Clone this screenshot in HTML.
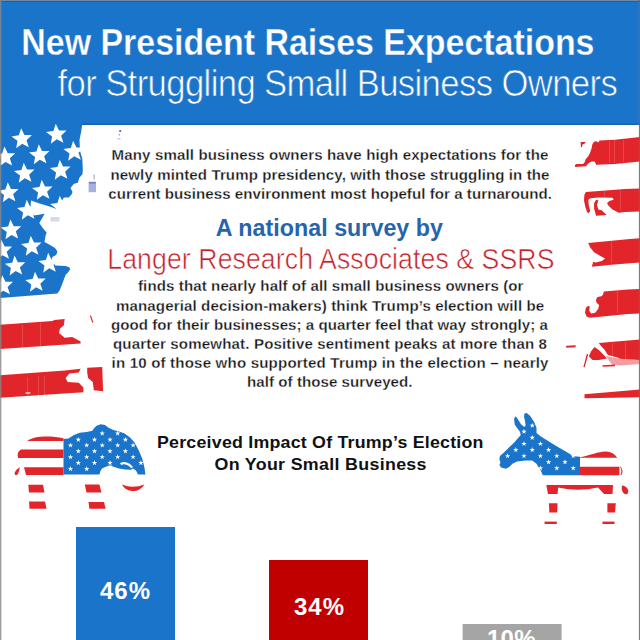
<!DOCTYPE html>
<html><head><meta charset="utf-8"><style>
html,body{margin:0;padding:0;background:#fff;width:640px;height:640px;overflow:hidden}
svg{display:block;font-family:"Liberation Sans",sans-serif}
</style></head><body>
<svg width="640" height="640" viewBox="0 0 640 640">
<rect x="0" y="0" width="640" height="125" fill="#1a74ca"/>
<polygon points="0.0,124.0 82.3,124.0 81.2,131.4 79.5,140.0 80.0,151.0 82.3,158.7 82.8,170.0 82.5,174.0 79.2,178.0 78.0,182.5 73.7,184.0 70.5,188.0 72.5,192.0 71.5,194.5 68.8,197.6 64.0,197.6 61.2,201.4 57.3,203.0 58.4,208.7 56.0,212.0 46.0,211.4 39.3,222.9 42.6,227.8 46.7,232.7 45.7,235.0 44.5,242.0 49.2,244.4 55.0,247.9 57.4,251.4 56.2,255.0 52.7,256.7 51.6,258.4 55.0,265.5 65.6,266.0 69.1,267.2 70.3,269.0 68.0,272.5 65.6,274.8 63.9,279.5 62.1,284.2 59.8,290.0 57.4,293.5 0.0,298.0" fill="#1a74ca" />
<polygon points="21.15,128.23 24.42,134.97 31.91,134.95 26.51,140.15 28.84,147.27 22.23,143.74 16.18,148.16 17.49,140.78 11.42,136.39 18.85,135.36" fill="#fff"/>
<polygon points="55.75,123.83 59.02,130.57 66.51,130.55 61.11,135.75 63.44,142.87 56.83,139.34 50.78,143.76 52.09,136.38 46.02,131.99 53.45,130.96" fill="#fff"/>
<polygon points="4.45,146.43 7.72,153.17 15.21,153.15 9.81,158.35 12.14,165.47 5.53,161.94 -0.52,166.36 0.79,158.98 -5.28,154.59 2.15,153.56" fill="#fff"/>
<polygon points="38.75,144.33 42.02,151.07 49.51,151.05 44.11,156.25 46.44,163.37 39.83,159.84 33.78,164.26 35.09,156.88 29.02,152.49 36.45,151.46" fill="#fff"/>
<polygon points="73.15,140.83 76.42,147.57 83.91,147.55 78.51,152.75 80.84,159.87 74.23,156.34 68.18,160.76 69.49,153.38 63.42,148.99 70.85,147.96" fill="#fff"/>
<polygon points="23.75,162.83 27.02,169.57 34.51,169.55 29.11,174.75 31.44,181.87 24.83,178.34 18.78,182.76 20.09,175.38 14.02,170.99 21.45,169.96" fill="#fff"/>
<polygon points="59.75,159.83 63.02,166.57 70.51,166.55 65.11,171.75 67.44,178.87 60.83,175.34 54.78,179.76 56.09,172.38 50.02,167.99 57.45,166.96" fill="#fff"/>
<polygon points="7.75,182.33 11.02,189.07 18.51,189.05 13.11,194.25 15.44,201.37 8.83,197.84 2.78,202.26 4.09,194.88 -1.98,190.49 5.45,189.46" fill="#fff"/>
<polygon points="41.75,179.83 45.02,186.57 52.51,186.55 47.11,191.75 49.44,198.87 42.83,195.34 36.78,199.76 38.09,192.38 32.02,187.99 39.45,186.96" fill="#fff"/>
<polygon points="26.75,199.83 30.02,206.57 37.51,206.55 32.11,211.75 34.44,218.87 27.83,215.34 21.78,219.76 23.09,212.38 17.02,207.99 24.45,206.96" fill="#fff"/>
<polygon points="59.75,195.83 63.02,202.57 70.51,202.55 65.11,207.75 67.44,214.87 60.83,211.34 54.78,215.76 56.09,208.38 50.02,203.99 57.45,202.96" fill="#fff"/>
<polygon points="10.45,219.43 13.72,226.17 21.21,226.15 15.81,231.35 18.14,238.47 11.53,234.94 5.48,239.36 6.79,231.98 0.72,227.59 8.15,226.56" fill="#fff"/>
<polygon points="30.75,235.83 34.02,242.57 41.51,242.55 36.11,247.75 38.44,254.87 31.83,251.34 25.78,255.76 27.09,248.38 21.02,243.99 28.45,242.96" fill="#fff"/>
<polygon points="1.35,239.83 4.62,246.57 12.11,246.55 6.71,251.75 9.04,258.87 2.43,255.34 -3.62,259.76 -2.31,252.38 -8.38,247.99 -0.95,246.96" fill="#fff"/>
<polygon points="14.55,255.53 17.82,262.27 25.31,262.25 19.91,267.45 22.24,274.57 15.63,271.04 9.58,275.46 10.89,268.08 4.82,263.69 12.25,262.66" fill="#fff"/>
<polygon points="48.15,252.83 51.42,259.57 58.91,259.55 53.51,264.75 55.84,271.87 49.23,268.34 43.18,272.76 44.49,265.38 38.42,260.99 45.85,259.96" fill="#fff"/>
<polygon points="34.95,271.83 38.22,278.57 45.71,278.55 40.31,283.75 42.64,290.87 36.03,287.34 29.98,291.76 31.29,284.38 25.22,279.99 32.65,278.96" fill="#fff"/>
<polygon points="2.25,275.13 5.52,281.87 13.01,281.85 7.61,287.05 9.94,294.17 3.33,290.64 -2.72,295.06 -1.41,287.68 -7.48,283.29 -0.05,282.26" fill="#fff"/>
<polygon points="31.0,200.5 38.8,203.2 48.0,206.0 57.5,209.3 58.4,212.2 46.0,213.5 34.0,215.4 30.0,212.0" fill="#fff" />
<polygon points="0.0,324.7 52.5,320.9 54.4,320.0 64.7,319.0 63.8,325.6 60.0,328.4 59.0,333.0 64.7,337.8 72.2,336.9 80.6,341.6 80.6,343.4 0.0,349.0" fill="#e2252a" />
<polygon points="0.0,375.3 65.0,370.6 80.6,368.8 78.8,372.5 69.4,373.4 65.6,378.0 67.5,381.9 78.8,382.8 83.4,387.5 83.4,392.2 0.0,397.8" fill="#e2252a" />
<polygon points="87.2,367.8 102.2,366.9 103.1,391.2 93.8,390.3 92.8,381.9 88.1,378.1 87.2,372.5" fill="#e2252a" />
<polygon points="640.0,137.0 615.0,139.7 599.4,140.5 598.6,142.5 596.2,141.3 593.9,141.7 592.3,144.4 591.6,148.3 590.0,153.0 588.4,156.0 585.7,159.2 584.5,162.4 583.0,164.0 576.7,164.0 575.2,164.7 574.8,167.0 586.0,166.3 588.4,163.2 591.6,161.6 594.7,161.6 596.2,164.7 615.0,164.0 640.0,161.4" fill="#e2252a" />
<polygon points="580.6,142.0 585.7,142.0 584.5,143.8 582.5,144.5 582.0,147.0 581.0,147.0" fill="#e2252a" />
<polygon points="640.0,188.5 625.0,188.9 585.9,192.0 584.4,194.7 584.0,200.2 585.2,206.4 587.1,211.9 588.3,213.5 590.2,211.1 588.7,204.9 588.3,199.8 590.6,198.2 598.4,197.5 612.5,197.8 613.7,199.8 609.4,201.0 607.0,203.3 608.6,205.7 612.5,209.6 618.8,212.7 625.0,211.9 640.0,211.5" fill="#e2252a" />
<polygon points="596.1,199.8 598.4,200.6 596.9,204.9 598.4,209.6 601.6,210.3 606.6,215.0 596.1,215.8 594.1,208.8 594.1,203.3" fill="#e2252a" />
<polygon points="640.0,238.3 630.0,239.0 588.2,242.9 590.2,247.6 594.1,252.3 599.5,255.4 605.0,258.6 601.9,260.9 595.6,262.5 593.3,261.7 592.1,265.6 592.1,266.8 611.2,264.8 630.0,263.2 640.0,262.5" fill="#e2252a" />
<polygon points="640.0,289.0 628.0,289.6 603.8,291.6 603.0,294.7 601.4,296.3 597.5,297.1 596.0,299.4 596.4,302.5 599.1,304.9 598.3,308.8 595.2,312.7 591.3,313.5 589.3,311.1 589.7,306.4 588.2,305.7 585.8,308.0 585.0,312.7 586.6,316.6 589.7,317.8 628.0,313.9 640.0,313.4" fill="#e2252a" />
<polygon points="640.0,339.4 598.8,343.1 601.0,346.0 604.4,349.4 606.2,352.5 608.0,355.0 612.5,356.2 617.5,357.5 620.0,358.8 640.0,360.0" fill="#e2252a" />
<polygon points="594.4,346.9 598.8,350.0 603.8,355.0 607.0,358.5 598.8,360.0 592.5,360.0 588.8,356.2 591.2,351.2" fill="#e2252a" />
<polygon points="566.2,345.8 575.6,345.2 575.6,347.2 566.2,347.8" fill="#e2252a" />
<polygon points="602.5,365.2 615.0,364.6 615.0,366.2 602.5,366.8" fill="#e2252a" />
<polygon points="586.9,353.8 588.2,354.5 584.6,367.5 583.4,367.0" fill="#e2252a" />
<polygon points="584.5,394.3 640.0,389.6 640.0,397.3 584.5,398.3" fill="#e2252a" />
<polygon points="606.0,356.0 620.0,358.8 640.0,360.0 640.0,364.0 620.0,365.5 612.0,364.5" fill="#e2252a" fill-opacity="0.45"/>
<rect x="82" y="123.6" width="558" height="1.2" fill="#175ea8"/>
<rect x="88.6" y="181.6" width="7.4" height="10.6" fill="#6a7cc4" fill-opacity="0.6"/>
<rect x="89" y="182" width="6.6" height="1.6" fill="#5a64a8" fill-opacity="0.6"/>
<rect x="93.5" y="174.5" width="1.2" height="5" fill="#6f7ab8" fill-opacity="0.6"/>
<rect x="50.5" y="217" width="9" height="4.5" fill="#8a93c8" fill-opacity="0.35"/>
<circle cx="120.2" cy="131" r="1.1" fill="#2a3470" fill-opacity="0.8"/>
<circle cx="119.2" cy="134.8" r="0.8" fill="#3a4480" fill-opacity="0.6"/>
<rect x="117.5" y="138" width="3" height="1.5" fill="#7b84b8" fill-opacity="0.4"/>
<path d="M90.4,315.5 L92.8,322.5" stroke="#e2252a" stroke-width="1.1"/>
<rect x="609" y="141" width="1" height="22" fill="#fff" fill-opacity="0.15"/>
<rect x="614" y="140" width="1" height="23" fill="#fff" fill-opacity="0.15"/>
<rect x="623" y="140" width="1" height="22" fill="#fff" fill-opacity="0.15"/>
<rect x="604" y="190" width="1" height="20" fill="#fff" fill-opacity="0.15"/>
<rect x="620" y="190" width="1" height="20" fill="#fff" fill-opacity="0.15"/>
<rect x="611" y="241" width="1" height="22" fill="#fff" fill-opacity="0.15"/>
<rect x="617" y="291" width="1" height="22" fill="#fff" fill-opacity="0.15"/>
<rect x="612" y="343" width="1" height="18" fill="#fff" fill-opacity="0.15"/>
<rect x="625" y="342" width="1" height="19" fill="#fff" fill-opacity="0.15"/>
<rect x="27" y="377" width="1" height="19" fill="#fff" fill-opacity="0.15"/>
<rect x="38" y="376" width="1" height="20" fill="#fff" fill-opacity="0.15"/>
<rect x="44" y="376" width="1" height="20" fill="#fff" fill-opacity="0.15"/>
<rect x="22" y="325" width="1" height="22" fill="#fff" fill-opacity="0.15"/>
<rect x="40" y="323" width="1" height="23" fill="#fff" fill-opacity="0.15"/>
<ellipse cx="28" cy="393" rx="2.8" ry="1" fill="#fff" fill-opacity="0.7"/>
<path d="M63.5,439.1 L68.4,438.4 L74,434.9 L79.7,432.8 L86.7,432.1 L92.3,430.7 L94.5,427.8 L96.6,425.7 L100.8,424.3 L105,425 L108.5,427.8 L113.4,430 L119,431.4 L124.7,433.5 L130.3,437.7 L134.5,442.6 L138.7,450.3 L142.3,458.8 L144.4,467.2 L145.4,474.6 L138,474.6 L136,470.5 L133,468.5 L131,469.8 L125,469.6 L119,468.4 L113.4,466.8 L110.6,465.2 L106.4,466.4 L102,468.4 L100.5,471 L99.4,474.4 L63.5,474.6 Z" fill="#1a74ca"/>
<path d="M120.6,464.2 C123,462.6 128,462.4 132.2,467.6" fill="none" stroke="#fff" stroke-width="2.2"/>
<polygon points="102.20,430.60 102.83,432.53 104.86,432.53 103.22,433.73 103.85,435.67 102.20,434.47 100.55,435.67 101.18,433.73 99.54,432.53 101.57,432.53" fill="#fff"/>
<polygon points="117.70,430.60 118.33,432.53 120.36,432.53 118.72,433.73 119.35,435.67 117.70,434.47 116.05,435.67 116.68,433.73 115.04,432.53 117.07,432.53" fill="#fff"/>
<polygon points="78.30,436.90 78.93,438.83 80.96,438.83 79.32,440.03 79.95,441.97 78.30,440.77 76.65,441.97 77.28,440.03 75.64,438.83 77.67,438.83" fill="#fff"/>
<polygon points="94.50,436.90 95.13,438.83 97.16,438.83 95.52,440.03 96.15,441.97 94.50,440.77 92.85,441.97 93.48,440.03 91.84,438.83 93.87,438.83" fill="#fff"/>
<polygon points="110.00,436.90 110.63,438.83 112.66,438.83 111.02,440.03 111.65,441.97 110.00,440.77 108.35,441.97 108.98,440.03 107.34,438.83 109.37,438.83" fill="#fff"/>
<polygon points="125.40,436.90 126.03,438.83 128.06,438.83 126.42,440.03 127.05,441.97 125.40,440.77 123.75,441.97 124.38,440.03 122.74,438.83 124.77,438.83" fill="#fff"/>
<polygon points="70.50,442.50 71.13,444.43 73.16,444.43 71.52,445.63 72.15,447.57 70.50,446.37 68.85,447.57 69.48,445.63 67.84,444.43 69.87,444.43" fill="#fff"/>
<polygon points="86.70,442.50 87.33,444.43 89.36,444.43 87.72,445.63 88.35,447.57 86.70,446.37 85.05,447.57 85.68,445.63 84.04,444.43 86.07,444.43" fill="#fff"/>
<polygon points="102.20,442.50 102.83,444.43 104.86,444.43 103.22,445.63 103.85,447.57 102.20,446.37 100.55,447.57 101.18,445.63 99.54,444.43 101.57,444.43" fill="#fff"/>
<polygon points="117.70,442.50 118.33,444.43 120.36,444.43 118.72,445.63 119.35,447.57 117.70,446.37 116.05,447.57 116.68,445.63 115.04,444.43 117.07,444.43" fill="#fff"/>
<polygon points="133.10,442.50 133.73,444.43 135.76,444.43 134.12,445.63 134.75,447.57 133.10,446.37 131.45,447.57 132.08,445.63 130.44,444.43 132.47,444.43" fill="#fff"/>
<polygon points="78.30,448.40 78.93,450.33 80.96,450.33 79.32,451.53 79.95,453.47 78.30,452.27 76.65,453.47 77.28,451.53 75.64,450.33 77.67,450.33" fill="#fff"/>
<polygon points="94.50,448.40 95.13,450.33 97.16,450.33 95.52,451.53 96.15,453.47 94.50,452.27 92.85,453.47 93.48,451.53 91.84,450.33 93.87,450.33" fill="#fff"/>
<polygon points="110.00,448.40 110.63,450.33 112.66,450.33 111.02,451.53 111.65,453.47 110.00,452.27 108.35,453.47 108.98,451.53 107.34,450.33 109.37,450.33" fill="#fff"/>
<polygon points="125.40,448.40 126.03,450.33 128.06,450.33 126.42,451.53 127.05,453.47 125.40,452.27 123.75,453.47 124.38,451.53 122.74,450.33 124.77,450.33" fill="#fff"/>
<polygon points="70.50,454.20 71.13,456.13 73.16,456.13 71.52,457.33 72.15,459.27 70.50,458.07 68.85,459.27 69.48,457.33 67.84,456.13 69.87,456.13" fill="#fff"/>
<polygon points="86.70,454.20 87.33,456.13 89.36,456.13 87.72,457.33 88.35,459.27 86.70,458.07 85.05,459.27 85.68,457.33 84.04,456.13 86.07,456.13" fill="#fff"/>
<polygon points="102.20,454.20 102.83,456.13 104.86,456.13 103.22,457.33 103.85,459.27 102.20,458.07 100.55,459.27 101.18,457.33 99.54,456.13 101.57,456.13" fill="#fff"/>
<polygon points="117.70,454.20 118.33,456.13 120.36,456.13 118.72,457.33 119.35,459.27 117.70,458.07 116.05,459.27 116.68,457.33 115.04,456.13 117.07,456.13" fill="#fff"/>
<polygon points="133.10,454.20 133.73,456.13 135.76,456.13 134.12,457.33 134.75,459.27 133.10,458.07 131.45,459.27 132.08,457.33 130.44,456.13 132.47,456.13" fill="#fff"/>
<polygon points="78.30,460.10 78.93,462.03 80.96,462.03 79.32,463.23 79.95,465.17 78.30,463.97 76.65,465.17 77.28,463.23 75.64,462.03 77.67,462.03" fill="#fff"/>
<polygon points="94.50,460.10 95.13,462.03 97.16,462.03 95.52,463.23 96.15,465.17 94.50,463.97 92.85,465.17 93.48,463.23 91.84,462.03 93.87,462.03" fill="#fff"/>
<polygon points="110.00,460.10 110.63,462.03 112.66,462.03 111.02,463.23 111.65,465.17 110.00,463.97 108.35,465.17 108.98,463.23 107.34,462.03 109.37,462.03" fill="#fff"/>
<polygon points="140.90,460.10 141.53,462.03 143.56,462.03 141.92,463.23 142.55,465.17 140.90,463.97 139.25,465.17 139.88,463.23 138.24,462.03 140.27,462.03" fill="#fff"/>
<polygon points="70.50,466.10 71.13,468.03 73.16,468.03 71.52,469.23 72.15,471.17 70.50,469.97 68.85,471.17 69.48,469.23 67.84,468.03 69.87,468.03" fill="#fff"/>
<polygon points="86.70,466.10 87.33,468.03 89.36,468.03 87.72,469.23 88.35,471.17 86.70,469.97 85.05,471.17 85.68,469.23 84.04,468.03 86.07,468.03" fill="#fff"/>
<path d="M27.6,440.8 C33,436 50,435.2 63.5,438.3 L63.5,441 L27.6,441 Z" fill="#e2252a"/>
<path d="M21,449.6 L63.5,449.6 L63.5,458 L18,458 Q16.5,452 21,449.6 Z" fill="#e2252a"/>
<path d="M24,467.2 L63.5,467.2 L63.5,475 L26,475 Z" fill="#e2252a"/>
<path d="M19.8,467 Q16.5,469 14.5,473 Q15,476.5 17.5,474.5 Q19.5,471 19.8,467 Z" fill="#e2252a"/>
<path d="M28.3,484.8 L43,484.8 L44.5,492.5 L29,492.5 Z" fill="#e2252a"/>
<path d="M29,501.6 L45,501.6 L46.5,508.7 L29.5,508.7 Z" fill="#e2252a"/>
<path d="M84.75,484.4 L99.4,484.4 L101.5,492.5 L86.5,492.5 Z" fill="#e2252a"/>
<path d="M88.5,501.9 L104,501.9 L105.6,508.75 L89.4,508.75 Z" fill="#e2252a"/>
<path d="M121.9,484.4 Q132.5,489 144.4,484.4 Q140,491.5 132.5,491 Q125,490.5 121.9,484.4 Z" fill="#e2252a"/>
<path d="M499.4,459.4 L499.9,456.1 L503.7,452.8 L509.2,447.3 L514.7,441.9 L518.5,437.5 L520.7,435.3 L520.1,432 L516.9,427.7 L514.7,424.4 L514.1,418.9 L515.2,416.2 L516.9,417.8 L521.2,424.4 L524.5,427.1 L525.6,425.5 L525,421.1 L524,416.7 L524.5,413.5 L526.7,412.9 L530,415.7 L534.3,422.2 L536.5,427.7 L536.5,433.1 L540.9,436.4 L555,445.2 L573.8,456.3 L580,456.8 L580,475.2 L543.1,475.2 L542,473.6 L540.9,470.8 L538.7,467.6 L536.5,463.7 L532.2,460.5 L525.6,460.5 L516.9,461.6 L512.5,463.7 L509.2,467 L505.9,468.7 L501,467.6 L499.4,464.8 L500.5,462.6 Z" fill="#1a74ca"/>
<polygon points="532.20,422.70 532.83,424.63 534.86,424.63 533.22,425.83 533.85,427.77 532.20,426.57 530.55,427.77 531.18,425.83 529.54,424.63 531.57,424.63" fill="#fff"/>
<polygon points="524.00,428.80 524.63,430.73 526.66,430.73 525.02,431.93 525.65,433.87 524.00,432.67 522.35,433.87 522.98,431.93 521.34,430.73 523.37,430.73" fill="#fff"/>
<polygon points="532.20,434.90 532.83,436.83 534.86,436.83 533.22,438.03 533.85,439.97 532.20,438.77 530.55,439.97 531.18,438.03 529.54,436.83 531.57,436.83" fill="#fff"/>
<polygon points="524.00,441.00 524.63,442.93 526.66,442.93 525.02,444.13 525.65,446.07 524.00,444.87 522.35,446.07 522.98,444.13 521.34,442.93 523.37,442.93" fill="#fff"/>
<polygon points="540.40,441.00 541.03,442.93 543.06,442.93 541.42,444.13 542.05,446.07 540.40,444.87 538.75,446.07 539.38,444.13 537.74,442.93 539.77,442.93" fill="#fff"/>
<polygon points="515.80,447.10 516.43,449.03 518.46,449.03 516.82,450.23 517.45,452.17 515.80,450.97 514.15,452.17 514.78,450.23 513.14,449.03 515.17,449.03" fill="#fff"/>
<polygon points="532.20,447.10 532.83,449.03 534.86,449.03 533.22,450.23 533.85,452.17 532.20,450.97 530.55,452.17 531.18,450.23 529.54,449.03 531.57,449.03" fill="#fff"/>
<polygon points="548.60,447.10 549.23,449.03 551.26,449.03 549.62,450.23 550.25,452.17 548.60,450.97 546.95,452.17 547.58,450.23 545.94,449.03 547.97,449.03" fill="#fff"/>
<polygon points="507.60,453.20 508.23,455.13 510.26,455.13 508.62,456.33 509.25,458.27 507.60,457.07 505.95,458.27 506.58,456.33 504.94,455.13 506.97,455.13" fill="#fff"/>
<polygon points="524.00,453.20 524.63,455.13 526.66,455.13 525.02,456.33 525.65,458.27 524.00,457.07 522.35,458.27 522.98,456.33 521.34,455.13 523.37,455.13" fill="#fff"/>
<polygon points="540.40,453.20 541.03,455.13 543.06,455.13 541.42,456.33 542.05,458.27 540.40,457.07 538.75,458.27 539.38,456.33 537.74,455.13 539.77,455.13" fill="#fff"/>
<polygon points="556.80,453.20 557.43,455.13 559.46,455.13 557.82,456.33 558.45,458.27 556.80,457.07 555.15,458.27 555.78,456.33 554.14,455.13 556.17,455.13" fill="#fff"/>
<polygon points="573.20,453.20 573.83,455.13 575.86,455.13 574.22,456.33 574.85,458.27 573.20,457.07 571.55,458.27 572.18,456.33 570.54,455.13 572.57,455.13" fill="#fff"/>
<polygon points="548.60,459.30 549.23,461.23 551.26,461.23 549.62,462.43 550.25,464.37 548.60,463.17 546.95,464.37 547.58,462.43 545.94,461.23 547.97,461.23" fill="#fff"/>
<polygon points="565.00,459.30 565.63,461.23 567.66,461.23 566.02,462.43 566.65,464.37 565.00,463.17 563.35,464.37 563.98,462.43 562.34,461.23 564.37,461.23" fill="#fff"/>
<polygon points="540.40,465.40 541.03,467.33 543.06,467.33 541.42,468.53 542.05,470.47 540.40,469.27 538.75,470.47 539.38,468.53 537.74,467.33 539.77,467.33" fill="#fff"/>
<polygon points="556.80,465.40 557.43,467.33 559.46,467.33 557.82,468.53 558.45,470.47 556.80,469.27 555.15,470.47 555.78,468.53 554.14,467.33 556.17,467.33" fill="#fff"/>
<polygon points="573.20,465.40 573.83,467.33 575.86,467.33 574.22,468.53 574.85,470.47 573.20,469.27 571.55,470.47 572.18,468.53 570.54,467.33 572.57,467.33" fill="#fff"/>
<path d="M580,457.3 C591,455.5 598,451.5 606,451.6 C611,451.8 614.5,454 617.2,457.7 L580,457.8 Z" fill="#e2252a"/>
<path d="M580,466.7 L619.4,466.7 L619.4,475.2 L580,475.2 Z" fill="#e2252a"/>
<path d="M619.8,466.7 Q622.5,470.5 620.5,475 L621.5,475 Q623.8,470.5 620.6,466.7 Z" fill="#e2252a"/>
<path d="M622.3,485.6 C626.5,486.3 628.8,489.5 628.2,492.4 C627.5,495 623.8,494.6 622.6,491.8 C621.5,489.6 621.3,487.2 622.3,485.6 Z" fill="#e2252a"/>
<path d="M546.3,485 L613,485 L612.5,494.1 L604,494.1 L598,487.5 Q578,492 558.2,487.5 L557.5,494.1 L548,494.1 Z" fill="#e2252a"/>
<path d="M549,503.3 L557.5,503.3 L557.2,512.4 L549.3,512.4 Z" fill="#e2252a"/>
<path d="M607.4,503.3 L615.8,503.3 L615,512.4 L607.4,512.4 Z" fill="#e2252a"/>
<path d="M544.6,521.6 L556.8,521.6 L556.8,524 L544.6,524 Z" fill="#e2252a"/>
<path d="M602.5,521.6 L614.5,521.6 L614.5,524 L602.5,524 Z" fill="#e2252a"/>
<rect x="76" y="527" width="99" height="120" fill="#1a74ca"/>
<rect x="269" y="560" width="99" height="90" fill="#c00000"/>
<rect x="462.6" y="624" width="99" height="30" fill="#a5a5a5"/>
<text transform="translate(307.88,55.20) scale(0.9300,1)" x="0" y="0" font-size="36.50" font-weight="bold" fill="#fff" text-anchor="middle" textLength="616.40" lengthAdjust="spacing" stroke="#1a74ca" stroke-width="0.35">New President Raises Expectations</text>
<text transform="translate(337.62,95.80) scale(0.9500,1)" x="0" y="0" font-size="36.50" font-weight="normal" fill="#fff" text-anchor="middle" textLength="589.74" lengthAdjust="spacing" stroke="#1a74ca" stroke-width="0.70">for Struggling Small Business Owners</text>
<text transform="translate(330.00,160.40) scale(1.0200,1)" x="0" y="0" font-size="14.80" font-weight="bold" fill="#151515" text-anchor="middle" textLength="428.43" lengthAdjust="spacing" stroke="#fff" stroke-width="0.28">Many small business owners have high expectations for the</text>
<text transform="translate(330.00,179.60) scale(1.0200,1)" x="0" y="0" font-size="14.80" font-weight="bold" fill="#151515" text-anchor="middle" textLength="430.39" lengthAdjust="spacing" stroke="#fff" stroke-width="0.28">newly minted Trump presidency, with those struggling in the</text>
<text transform="translate(330.13,198.80) scale(1.0200,1)" x="0" y="0" font-size="14.80" font-weight="bold" fill="#151515" text-anchor="middle" textLength="435.05" lengthAdjust="spacing" stroke="#fff" stroke-width="0.28">current business environment most hopeful for a turnaround.</text>
<text transform="translate(329.38,236.25) scale(0.9500,1)" x="0" y="0" font-size="24.50" font-weight="bold" fill="#2664ac" text-anchor="middle" textLength="239.21" lengthAdjust="spacing">A national survey by</text>
<text transform="translate(330.88,268.50) scale(0.9300,1)" x="0" y="0" font-size="28.70" font-weight="normal" fill="#c41f2a" text-anchor="middle" textLength="480.91" lengthAdjust="spacing" stroke="#fff" stroke-width="0.55">Langer Research Associates &amp; SSRS</text>
<text transform="translate(330.75,291.00) scale(1.0200,1)" x="0" y="0" font-size="14.80" font-weight="bold" fill="#151515" text-anchor="middle" textLength="377.94" lengthAdjust="spacing" stroke="#fff" stroke-width="0.28">finds that nearly half of all small business owners (or</text>
<text transform="translate(330.13,310.60) scale(1.0200,1)" x="0" y="0" font-size="14.80" font-weight="bold" fill="#151515" text-anchor="middle" textLength="419.85" lengthAdjust="spacing" stroke="#fff" stroke-width="0.28">managerial decision-makers) think Trump’s election will be</text>
<text transform="translate(329.50,329.60) scale(1.0200,1)" x="0" y="0" font-size="14.80" font-weight="bold" fill="#151515" text-anchor="middle" textLength="428.43" lengthAdjust="spacing" stroke="#fff" stroke-width="0.28">good for their businesses; a quarter feel that way strongly; a</text>
<text transform="translate(330.00,349.00) scale(1.0200,1)" x="0" y="0" font-size="14.80" font-weight="bold" fill="#151515" text-anchor="middle" textLength="425.49" lengthAdjust="spacing" stroke="#fff" stroke-width="0.28">quarter somewhat. Positive sentiment peaks at more than 8</text>
<text transform="translate(330.00,367.80) scale(1.0200,1)" x="0" y="0" font-size="14.80" font-weight="bold" fill="#151515" text-anchor="middle" textLength="428.43" lengthAdjust="spacing" stroke="#fff" stroke-width="0.28">in 10 of those who supported Trump in the election – nearly</text>
<text transform="translate(329.75,387.40) scale(1.0200,1)" x="0" y="0" font-size="14.80" font-weight="bold" fill="#151515" text-anchor="middle" textLength="162.25" lengthAdjust="spacing" stroke="#fff" stroke-width="0.28">half of those surveyed.</text>
<text transform="translate(320.25,447.50) scale(1.0800,1)" x="0" y="0" font-size="16.50" font-weight="bold" fill="#111" text-anchor="middle" textLength="302.31" lengthAdjust="spacing">Perceived Impact Of Trump’s Election</text>
<text transform="translate(320.50,470.00) scale(1.0800,1)" x="0" y="0" font-size="16.50" font-weight="bold" fill="#111" text-anchor="middle" textLength="196.30" lengthAdjust="spacing">On Your Small Business</text>
<text x="125.00" y="598.70" font-size="24.00" font-weight="bold" fill="#fff" text-anchor="middle" textLength="50.00" lengthAdjust="spacing">46%</text>
<text x="319.00" y="614.50" font-size="24.00" font-weight="bold" fill="#fff" text-anchor="middle" textLength="50.00" lengthAdjust="spacing">34%</text>
<text x="511.25" y="647.30" font-size="24.00" font-weight="bold" fill="#fff" text-anchor="middle" textLength="48.50" lengthAdjust="spacing">10%</text>
<rect x="0" y="0" width="640" height="1" fill="#8a8f96" fill-opacity="0.75"/>
<rect x="0" y="1" width="640" height="1" fill="#1d4f88" fill-opacity="0.55"/>
<rect x="0" y="0" width="1.4" height="640" fill="#888" fill-opacity="0.8"/>
<rect x="639" y="0" width="1" height="640" fill="#666" fill-opacity="0.85"/>
<rect x="638" y="0" width="1" height="640" fill="#888" fill-opacity="0.12"/>
</svg>
</body></html>
